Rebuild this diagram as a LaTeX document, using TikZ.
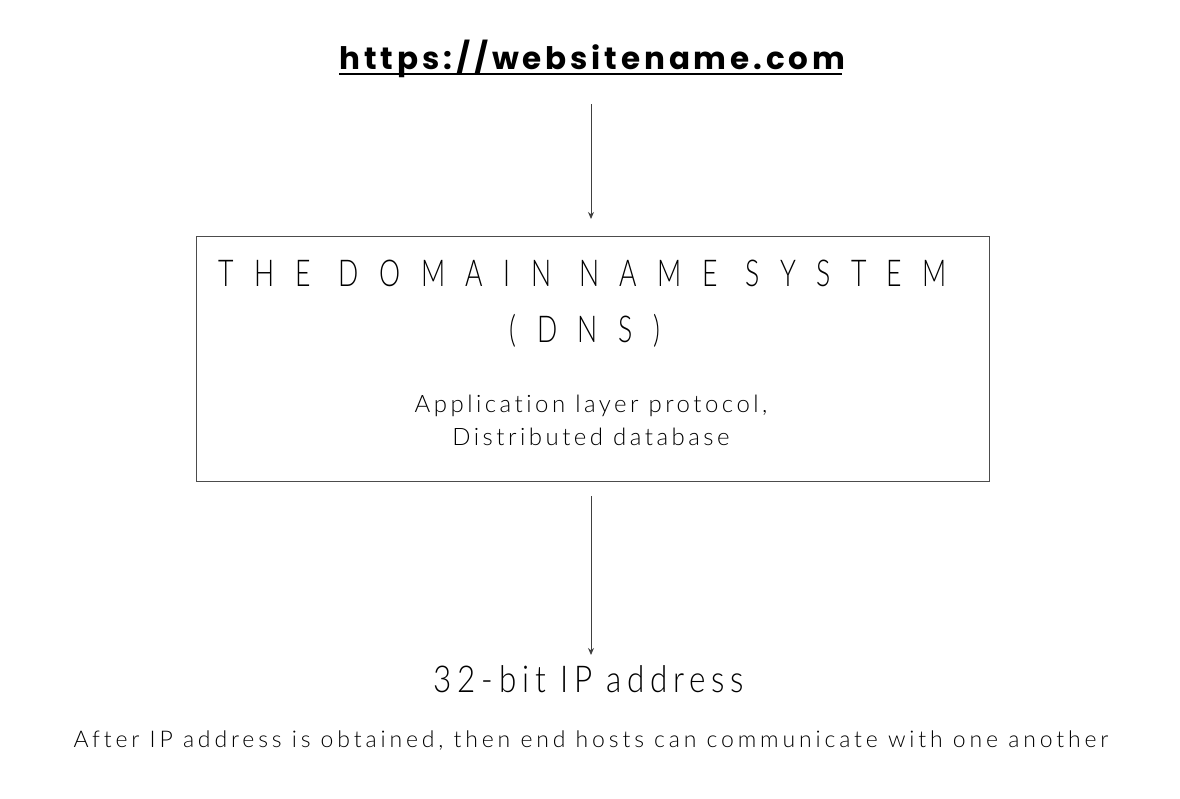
\documentclass[tikz,border=0pt]{standalone}
\usepackage{fontspec}
\setmainfont{Lato}
\newfontfamily\headfont{Poppins}[UprightFont=* Bold, LetterSpace=12.5, Ligatures=NoCommon]
\newfontfamily\dnsfont{Lato}[UprightFont=* Light, FakeStretch=0.72, LetterSpace=55.5, Ligatures=NoCommon]
\newfontfamily\subfont{Lato}[UprightFont=* Light, LetterSpace=14.5, Ligatures=NoCommon]
\newfontfamily\ipfont{Lato}[UprightFont=* Light, FakeStretch=0.85, LetterSpace=15.5, Ligatures=NoCommon]
\newfontfamily\afterfont{Lato}[UprightFont=* Light, LetterSpace=16.8, Ligatures=NoCommon]
\usetikzlibrary{arrows.meta}
\begin{document}
\begin{tikzpicture}[x=1pt,y=-1pt,
  conn/.style={draw=black!75, line width=1pt, -{Stealth[length=7pt,width=6pt]}},
  plain/.style={inner sep=0pt, align=center}]
\useasboundingbox (0,0) rectangle (1180,798);
\node[plain, anchor=base, font=\headfont\fontsize{31}{36}\selectfont] (url) at (592.5,69.5) {https://websitename.com};
\draw[line width=2.7pt] ([yshift=-4.5pt]url.base west) -- ([yshift=-4.5pt,xshift=-4pt]url.base east);
\node[draw=black!70, line width=1pt, minimum width=793pt, minimum height=245pt, inner sep=0pt] (dns) at (592.5,358.5) {};
\node[plain, font=\dnsfont\fontsize{37}{44}\selectfont] (t1) at (583,273) {THE DOMAIN NAME SYSTEM};
\node[plain, font=\dnsfont\fontsize{37}{44}\selectfont] (t2) at (585,331) {(DNS)};
\node[plain, font=\subfont\fontsize{24}{33}\selectfont] (sub) at (591,420) {Application layer protocol,\\Distributed database};
\coordinate (a1s) at (591,104);
\coordinate (a2s) at (591,496);
\node[plain, font=\ipfont\fontsize{37}{44}\selectfont] (ip) at (589,679) {32-bit IP address};
\node[plain, font=\afterfont\fontsize{23}{28}\selectfont] (after) at (591,741) {After IP address is obtained, then end hosts can communicate with one another};
\draw[conn] (a1s) -- (591,219);
\draw[conn] (a2s) -- (591,655);
\end{tikzpicture}
\end{document}
